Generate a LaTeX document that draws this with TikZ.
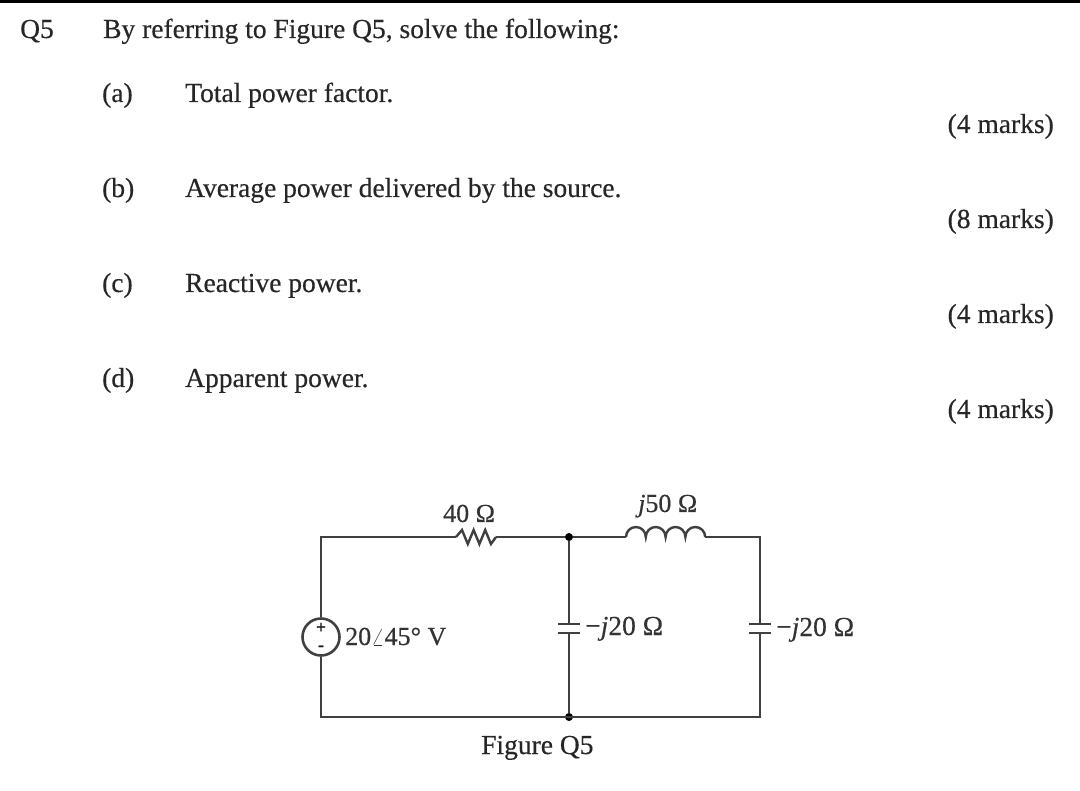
\documentclass[tikz,border=0pt]{standalone}
\usepackage{fontspec}
\setmainfont[RawFeature={embolden=0.4}]{Liberation Serif}
\begin{document}
\begin{tikzpicture}
        [%%%%%%%%%%%%%%%%%%%%%%%%%%%%%%
        x=1pt,y=1pt,
        wire/.style={draw=black!75,line width=2.9pt,line join=miter},
        part/.style={draw=black!75,line width=2.4pt},
        dot/.style={circle,draw=black,fill=black,inner sep=0pt,minimum size=7.5pt},
        src/.style={circle,draw=black!75,line width=2.6pt,fill=white,inner sep=0pt,minimum size=37pt},
        sign/.style={inner sep=0pt,text=black!90,font=\fontsize{18}{18}\selectfont\bfseries},
        txt/.style={anchor=base west,inner sep=0pt,text=black!85,font=\fontsize{27.5}{30}\selectfont},
        marks/.style={anchor=base east,inner sep=0pt,text=black!85,font=\fontsize{27.5}{30}\selectfont},
        val/.style={anchor=base west,inner sep=0pt,text=black!80,font=\fontsize{26}{28}\selectfont},
        ]%%%%%%%%%%%%%%%%%%%%%%%%%%%%%%
        \useasboundingbox (0,0) rectangle (1080,-791);
        % Top rule
        \fill[black] (0,0) rectangle (1080,-3);
        % Text
        \node[txt] (qnum) at (20,-38) {Q5};
        \node[txt] (qhead) at (103,-38) {By referring to Figure Q5, solve the following:};
        \foreach \nm/\lbl/\body/\mk/\yy in {a/(a)/Total power factor./4/102,
          b/(b)/Average power delivered by the source./8/197,
          c/(c)/Reactive power./4/292,
          d/(d)/Apparent power./4/387}{
            \node[txt] (lbl\nm) at (102,-\yy) {\lbl};
            \node[txt] (body\nm) at (185,-\yy) {\body};
            \node[marks] (mk\nm) at (1054,-\yy-31) {(\mk{} marks)};
        }
        % Corners and junctions
        \coordinate (tl) at (321,-537);
        \coordinate (bl) at (321,-717);
        \coordinate (tr) at (760,-537);
        \coordinate (br) at (760,-717);
        \node[dot] (ntop) at (569,-537) {};
        \node[dot] (nbot) at (569,-717) {};
        \node[src] (vs) at (321,-637) {};
        % Resistor ends
        \coordinate (ra) at (456,-537);
        \coordinate (rb) at (496,-537);
        % Inductor ends
        \coordinate (la) at (626,-537);
        \coordinate (lb) at (705,-537);
        % Capacitor plates
        \coordinate (cmt) at (569,-624);
        \coordinate (cmb) at (569,-633);
        \coordinate (crt) at (760,-624);
        \coordinate (crb) at (760,-633);
        % Lines
        \draw[wire] (vs) -- (tl) -- (ra);
        \draw[wire] (vs) -- (bl) -- (br) -- (crb);
        \draw[wire] (rb) -- (ntop) -- (la);
        \draw[wire] (lb) -- (tr) -- (crt);
        \draw[wire] (ntop) -- (cmt);
        \draw[wire] (cmb) -- (nbot);
        % Resistor
        \draw[part] (ra) -- ++(6,7) -- ++(5.8,-14) -- ++(5.8,14) -- ++(5.8,-14)
          -- ++(5.8,14) -- ++(5.8,-14) -- (rb);
        % Inductor
        \draw[part] (la) arc (180:0:9.9 and 10) arc (180:0:9.9 and 10)
          arc (180:0:9.9 and 10) arc (180:0:9.9 and 10);
        % Plates
        \draw[part] ([xshift=-11pt]cmt) -- ([xshift=11pt]cmt);
        \draw[part] ([xshift=-11pt]cmb) -- ([xshift=11pt]cmb);
        \draw[part] ([xshift=-11pt]crt) -- ([xshift=11pt]crt);
        \draw[part] ([xshift=-11pt]crb) -- ([xshift=11pt]crb);
        % Source signs
        \node[sign] (vplus) at (321,-628) {+};
        \node[sign] (vminus) at (321,-648) {-};
        % Values
        \node[val] (rval) at (443,-522) {40 Ω};
        \node[val] (lval) at (638,-512) {\textit{j}50 Ω};
        \node[val] (vval) at (345,-645) {20$\angle$45° V};
        \node[val,font=\fontsize{27.5}{28}\selectfont] (cmval) at (585,-635) {−\textit{j}20 Ω};
        \node[val,font=\fontsize{27.5}{28}\selectfont] (crval) at (776,-636) {−\textit{j}20 Ω};
        \node[txt] (figcap) at (481,-754) {Figure Q5};
\end{tikzpicture}
\end{document}
